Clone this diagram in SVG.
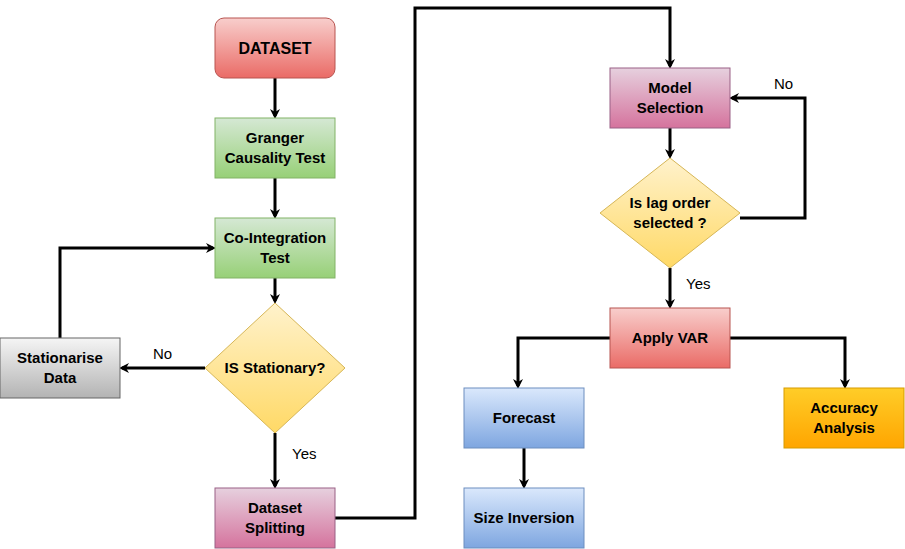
<svg xmlns="http://www.w3.org/2000/svg" width="905" height="549" viewBox="0 0 905 549">
<style>
.n{stroke-width:1}
.t{font-family:"Liberation Sans",Arial,sans-serif;font-size:15px;font-weight:bold;text-anchor:middle;fill:#000}
.l{font-family:"Liberation Sans",Arial,sans-serif;font-size:15px;fill:#000}
.c{fill:none;stroke:#000;stroke-width:3;marker-end:url(#a)}
</style>
<defs>
<marker id="a" markerWidth="10" markerHeight="10" refX="7" refY="5" orient="auto" markerUnits="userSpaceOnUse"><path d="M0,0 L10,5 L0,10 L3,5 Z" fill="#000"/></marker>
<linearGradient id="red" x1="0" y1="0" x2="0" y2="1"><stop offset="0" stop-color="#f8cecc"/><stop offset="1" stop-color="#ea6b66"/></linearGradient>
<linearGradient id="green" x1="0" y1="0" x2="0" y2="1"><stop offset="0" stop-color="#d5e8d4"/><stop offset="1" stop-color="#97d077"/></linearGradient>
<linearGradient id="yel" x1="0" y1="0" x2="0" y2="1"><stop offset="0" stop-color="#fff2cc"/><stop offset="1" stop-color="#ffd966"/></linearGradient>
<linearGradient id="gray" x1="0" y1="0" x2="0" y2="1"><stop offset="0" stop-color="#f5f5f5"/><stop offset="1" stop-color="#b3b3b3"/></linearGradient>
<linearGradient id="pink" x1="0" y1="0" x2="0" y2="1"><stop offset="0" stop-color="#e6d0de"/><stop offset="1" stop-color="#d5739d"/></linearGradient>
<linearGradient id="blue" x1="0" y1="0" x2="0" y2="1"><stop offset="0" stop-color="#dae8fc"/><stop offset="1" stop-color="#7ea6e0"/></linearGradient>
<linearGradient id="org" x1="0" y1="0" x2="0" y2="1"><stop offset="0" stop-color="#ffcd28"/><stop offset="1" stop-color="#ffa500"/></linearGradient>
</defs>
<g id="connectors">
<path class="c" d="M275,78 V116"/>
<path class="c" d="M275,178 V216"/>
<path class="c" d="M275,278 V301"/>
<path class="c" d="M205,368 H122"/>
<path class="c" d="M60,338 V248 H213"/>
<path class="c" d="M275,433 V486"/>
<path class="c" d="M335,518 H415 V8 H670 V66"/>
<path class="c" d="M670,128 V156"/>
<path class="c" d="M740,218 H805 V98 H732"/>
<path class="c" d="M670,268 V306"/>
<path class="c" d="M610,338 H518 V386"/>
<path class="c" d="M730,338 H845 V386"/>
<path class="c" d="M524,448 V486"/>
<text class="l" x="153" y="359">No</text>
<text class="l" x="292" y="459">Yes</text>
<text class="l" x="774" y="89">No</text>
<text class="l" x="686" y="289">Yes</text>
</g>
<g id="dataset"><rect x="215" y="18" width="120" height="60" rx="9" fill="url(#red)" stroke="#b85450"/><text class="t" x="275" y="54" style="font-size:16px">DATASET</text></g>
<g id="granger"><rect x="215" y="118" width="120" height="60" fill="url(#green)" stroke="#82b366"/><text class="t" x="275" y="143">Granger</text><text class="t" x="275" y="163">Causality Test</text></g>
<g id="coint"><rect x="215" y="218" width="120" height="60" fill="url(#green)" stroke="#82b366"/><text class="t" x="275" y="243">Co-Integration</text><text class="t" x="275" y="263">Test</text></g>
<g id="stationary"><path d="M275,303 L345,368 L275,433 L205,368 Z" fill="url(#yel)" stroke="#d6b656"/><text class="t" x="275" y="373">IS Stationary?</text></g>
<g id="stationarise"><rect x="0" y="338" width="120" height="60" fill="url(#gray)" stroke="#666"/><text class="t" x="60" y="363">Stationarise</text><text class="t" x="60" y="383">Data</text></g>
<g id="split"><rect x="215" y="488" width="120" height="60" fill="url(#pink)" stroke="#996185"/><text class="t" x="275" y="513">Dataset</text><text class="t" x="275" y="533">Splitting</text></g>
<g id="model"><rect x="610" y="68" width="120" height="60" fill="url(#pink)" stroke="#996185"/><text class="t" x="670" y="93">Model</text><text class="t" x="670" y="113">Selection</text></g>
<g id="lag"><path d="M670,158 L740,213 L670,268 L600,213 Z" fill="url(#yel)" stroke="#d6b656"/><text class="t" x="670" y="208">Is lag order</text><text class="t" x="670" y="228">selected ?</text></g>
<g id="var"><rect x="610" y="308" width="120" height="60" fill="url(#red)" stroke="#b85450"/><text class="t" x="670" y="343">Apply VAR</text></g>
<g id="forecast"><rect x="464" y="388" width="120" height="60" fill="url(#blue)" stroke="#6c8ebf"/><text class="t" x="524" y="423">Forecast</text></g>
<g id="inversion"><rect x="464" y="488" width="120" height="60" fill="url(#blue)" stroke="#6c8ebf"/><text class="t" x="524" y="523">Size Inversion</text></g>
<g id="accuracy"><rect x="784" y="388" width="120" height="60" fill="url(#org)" stroke="#d79b00"/><text class="t" x="844" y="413">Accuracy</text><text class="t" x="844" y="433">Analysis</text></g>
</svg>
